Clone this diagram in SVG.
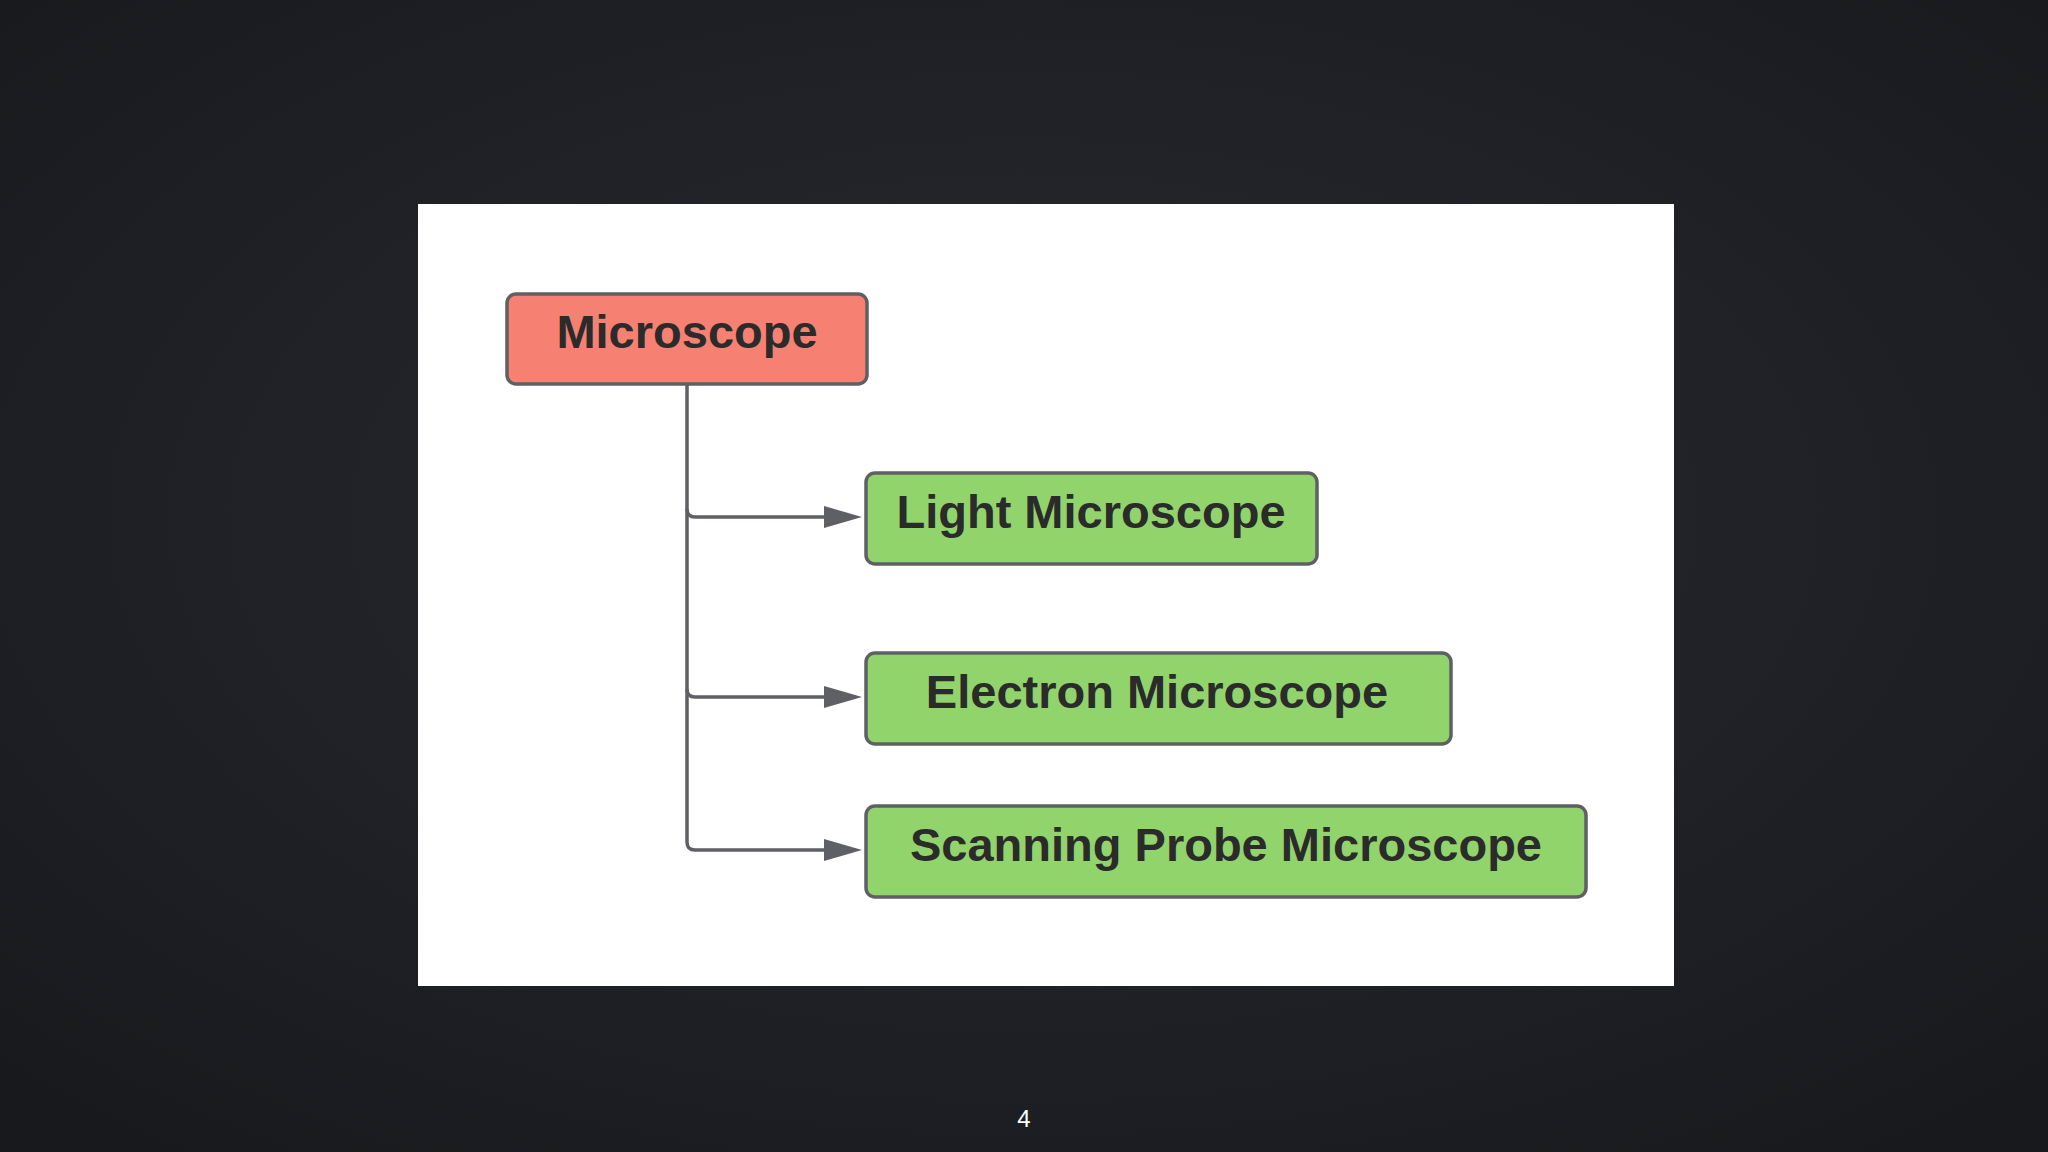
<svg xmlns="http://www.w3.org/2000/svg" width="2048" height="1152" viewBox="0 0 2048 1152">
<defs>
<radialGradient id="bg" cx="0.5" cy="0.45" r="0.75">
<stop offset="0" stop-color="#2a2b30"/><stop offset="1" stop-color="#17181c"/>
</radialGradient>
<marker id="arr" markerWidth="12" markerHeight="10" refX="12" refY="5" orient="auto" markerUnits="userSpaceOnUse" viewBox="0 0 12 10">
<path d="M0,0 L12,5 L0,10 Z" fill="#5f5f66"/>
</marker>
<style>
.box{stroke:#5f6066;stroke-width:3.5}
.red{fill:#f68072}
.green{fill:#92d46c}
.t{font-family:"Liberation Sans",Arial,sans-serif;font-weight:bold;font-size:47px;fill:#2b2b2b;text-anchor:middle}
.c{fill:none;stroke:#5f5f66;stroke-width:3.5}
</style>
</defs>
<rect width="2048" height="1152" fill="url(#bg)"/>
<rect x="418" y="204" width="1256" height="782" fill="#ffffff"/>
<g id="connectors">
<path class="c" d="M687,384 V842 Q687,850 695,850 H840"/>
<path class="c" d="M687,509 Q687,517 695,517 H840"/>
<path class="c" d="M687,689 Q687,697 695,697 H840"/>
<path d="M824,506 L862,517 L824,528 Z" fill="#5f5f66"/>
<path d="M824,686 L862,697 L824,708 Z" fill="#5f5f66"/>
<path d="M824,839 L862,850 L824,861 Z" fill="#5f5f66"/>
</g>
<g id="microscope"><rect class="box red" x="507" y="294" width="360" height="90" rx="9"/><text class="t" x="687" y="348">Microscope</text></g>
<g id="light"><rect class="box green" x="866" y="473" width="451" height="91" rx="9"/><text class="t" x="1091" y="528">Light Microscope</text></g>
<g id="electron"><rect class="box green" x="866" y="653" width="585" height="91" rx="9"/><text class="t" x="1157" y="708">Electron Microscope</text></g>
<g id="scanning"><rect class="box green" x="866" y="806" width="720" height="91" rx="9"/><text class="t" x="1226" y="861">Scanning Probe Microscope</text></g>
<text x="1024" y="1127" font-family="Liberation Sans,Arial,sans-serif" font-size="24" fill="#ffffff" text-anchor="middle">4</text>
</svg>
